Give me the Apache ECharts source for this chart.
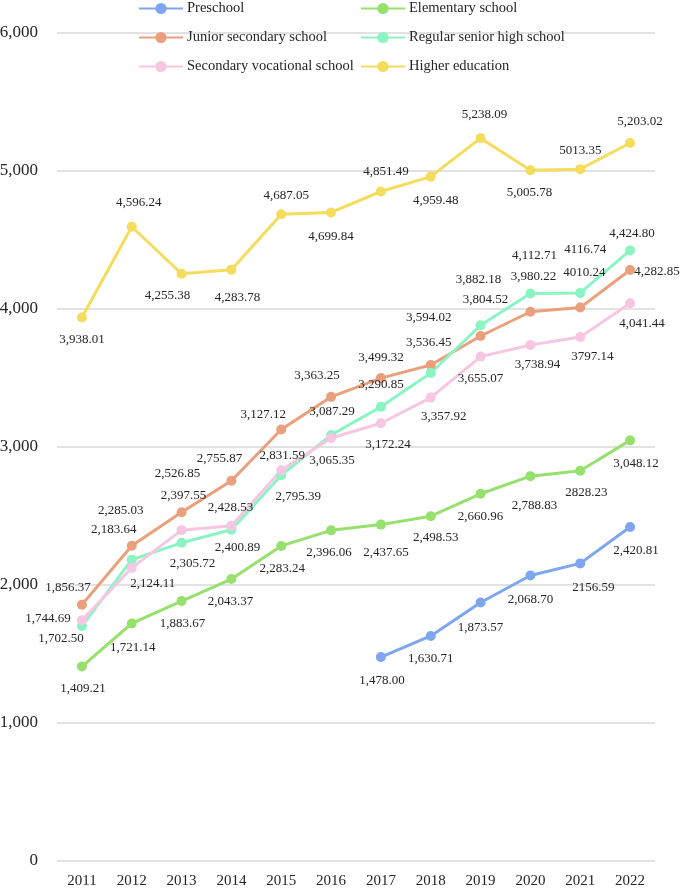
<!DOCTYPE html>
<html>
<head>
<meta charset="utf-8">
<script src="https://cdn.jsdelivr.net/npm/echarts@6/dist/echarts.min.js"></script>
<style>
    html, body { margin: 0; padding: 0; background: #fff; }
    #main { width: 685px; height: 893px; }
</style>
</head>
<body>
<div id="main"></div>
<script>
var years = ['2011', '2012', '2013', '2014', '2015', '2016', '2017', '2018', '2019', '2020', '2021', '2022'];
var yTicks = [0, 1000, 2000, 3000, 4000, 5000, 6000];

var preschool = [null, null, null, null, null, null, 1478.00, 1630.71, 1873.57, 2068.70, 2156.59, 2420.81];
var elementary = [1409.21, 1721.14, 1883.67, 2043.37, 2283.24, 2396.06, 2437.65, 2498.53, 2660.96, 2788.83, 2828.23, 3048.12];
var juniorSecondary = [1856.37, 2285.03, 2526.85, 2755.87, 3127.12, 3363.25, 3499.32, 3594.02, 3804.52, 3980.22, 4010.24, 4282.85];
var seniorHigh = [1702.50, 2183.64, 2305.72, 2400.89, 2795.39, 3087.29, 3290.85, 3536.45, 3882.18, 4112.71, 4116.74, 4424.80];
var vocational = [1744.69, 2124.11, 2397.55, 2428.53, 2831.59, 3065.35, 3172.24, 3357.92, 3655.07, 3738.94, 3797.14, 4041.44];
var higherEdu = [3938.01, 4596.24, 4255.38, 4283.78, 4687.05, 4699.84, 4851.49, 4959.48, 5238.09, 5005.78, 5013.35, 5203.02];

// 2021 labels are written without thousands separator in the source
var plainYears = ['2021'];

// label offsets from the marker centre, [dx, dy]
var offPreschool = [null, null, null, null, null, null, [1, 24], [0, 23], [0, 25], [0, 24], [13, 24], [6, 24]];
var offElementary = [[1, 22], [1, 24], [1, 23], [-1, 23], [1, 23], [-2, 22], [5, 28], [5, 21], [0, 23], [4, 29], [6, 22], [6, 23]];
var offJunior = [[-14, -17], [-11, -35], [-4, -39], [-12, -22], [-18, -15], [-14, -21], [0, -21], [-2, -47], [5, -36], [3, -35], [4, -35], [27, 2]];
var offSenior = [[-21, 13], [-18, -30], [11, 21], [6, 18], [17, 21], [1, -23], [0, -22], [-2, -30], [-2, -46], [4, -38], [5, -43], [2, -17]];
var offVocational = [[-34, -2], [21, 16], [2, -35], [-1, -18], [1, -15], [1, 23], [7, 21], [13, 19], [0, 22], [7, 20], [12, 20], [12, 20]];
var offHigher = [[0, 22], [7, -24], [-14, 22], [6, 28], [5, -19], [0, 24], [5, -20], [5, 24], [4, -24], [-1, 22], [0, -19], [10, -21]];

var FONT = "'Liberation Serif', 'Times New Roman', serif";

function fmt(v, year) {
    var s = v.toFixed(2);
    if (plainYears.indexOf(year) >= 0) return s;
    var parts = s.split('.');
    return parts[0].replace(/\B(?=(\d{3})+(?!\d))/g, ',') + '.' + parts[1];
}

function makeSeries(name, values, offsets, color) {
    var data = values.map(function (v, i) {
        if (v === null) return null;
        return { value: v, label: { offset: offsets[i] } };
    });
    return {
        name: name,
        type: 'line',
        data: data,
        symbol: 'circle',
        symbolSize: 10,
        color: color,
        lineStyle: { width: 3, color: color },
        itemStyle: { color: color },
        label: {
            show: true,
            position: 'inside',
            color: '#262626',
            fontFamily: FONT,
            fontSize: 13,
            formatter: function (p) { return fmt(p.value, p.name); }
        }
    };
}

var myChart = echarts.init(document.getElementById('main'));

var legendBase = {
    orient: 'vertical',
    top: -4,
    itemWidth: 44,
    itemHeight: 14,
    itemGap: 14,
    textStyle: { fontFamily: FONT, fontSize: 14.5, color: '#262626', padding: [0, 0, 0, -1] }
};

var option = {
    animation: false,
    legend: [
        Object.assign({}, legendBase, { left: 133, data: ['Preschool', 'Junior secondary school', 'Secondary vocational school'] }),
        Object.assign({}, legendBase, { left: 355, data: ['Elementary school', 'Regular senior high school', 'Higher education'] })
    ],
    grid: { left: 57, right: 30, top: 33, bottom: 32, outerBoundsMode: 'none' },
    xAxis: {
        type: 'category',
        data: years,
        axisLine: { show: false },
        axisTick: { show: false },
        axisLabel: { fontFamily: FONT, fontSize: 15, color: '#262626', margin: 13 }
    },
    yAxis: {
        type: 'value',
        min: yTicks[0],
        max: yTicks[yTicks.length - 1],
        interval: 1000,
        axisLine: { show: false },
        axisTick: { show: false },
        splitLine: { lineStyle: { color: '#d9d9d9', width: 1.5 } },
        axisLabel: {
            fontFamily: FONT, fontSize: 17, color: '#262626', margin: 19,
            formatter: function (v) { return v.toString().replace(/\B(?=(\d{3})+(?!\d))/g, ','); }
        }
    },
    series: [
        makeSeries('Preschool', preschool, offPreschool, '#7ea6f0'),
        makeSeries('Elementary school', elementary, offElementary, '#96e06c'),
        makeSeries('Junior secondary school', juniorSecondary, offJunior, '#eaa07c'),
        makeSeries('Regular senior high school', seniorHigh, offSenior, '#8af5c2'),
        makeSeries('Secondary vocational school', vocational, offVocational, '#f6c6e3'),
        makeSeries('Higher education', higherEdu, offHigher, '#f4dc5c')
    ]
};

myChart.setOption(option);
</script>
</body>
</html>
